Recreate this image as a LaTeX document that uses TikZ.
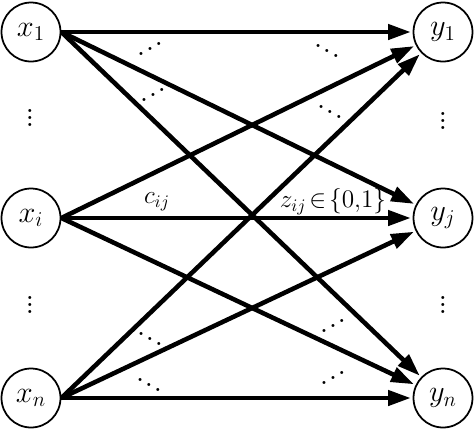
\documentclass[tikz,border=0pt]{standalone}
\usepackage{graphicx}
\usetikzlibrary{arrows.meta}
\newcommand{\updots}{\reflectbox{$\ddots$}}
\begin{document}
\begin{tikzpicture}[x=0.02cm,y=-0.02cm]
  \tikzstyle{vertex}=[circle,draw,line width=1pt,minimum size=1.18cm,inner sep=0pt,font=\LARGE]
  \tikzstyle{edge}=[line width=2.6pt,-{Triangle[length=13pt,width=8.5pt]},shorten >=1pt]
  \tikzstyle{dotsnode}=[inner sep=0pt,anchor=base,yshift=-4.8pt,font=\large\bfseries]
  \tikzstyle{weight}=[inner sep=0pt,font=\Large]
  \useasboundingbox (0,0) rectangle (474,430);
  % sources
  \node[vertex] (x1) at (31,32) {$x_1$};
  \node[vertex] (xi) at (31,218) {$x_i$};
  \node[vertex] (xn) at (31,398) {$x_n$};
  % targets
  \node[vertex] (y1) at (443,32) {$y_1$};
  \node[vertex] (yj) at (443,218) {$y_j$};
  \node[vertex] (yn) at (443,398) {$y_n$};
  % all pairs
  \foreach \s in {x1,xi,xn}
    \foreach \t in {y1,yj,yn}
      \draw[edge] (\s.east) -- (\t);
  % labels on x_i -> y_j
  \node[weight] (cij) at (157,202) {$c_{ij}$};
  \node[weight] (zij) at (333,202) {$z_{ij}\!\in\!\{0{,}1\}$};
  % vertical dots
  \node[dotsnode] (vx1) at (30,118) {\vdots};
  \node[dotsnode] (vx2) at (30,305) {\vdots};
  \node[dotsnode] (vy1) at (443,121) {\vdots};
  \node[dotsnode] (vy2) at (443,305) {\vdots};
  % diagonal dots
  \node[dotsnode] (d1) at (150,49) {\updots};
  \node[dotsnode] (d2) at (153,95) {\updots};
  \node[dotsnode] (d3) at (327,51) {$\ddots$};
  \node[dotsnode] (d4) at (330,112) {$\ddots$};
  \node[dotsnode] (d5) at (150,339) {$\ddots$};
  \node[dotsnode] (d6) at (149,385) {$\ddots$};
  \node[dotsnode] (d7) at (333,326) {\updots};
  \node[dotsnode] (d8) at (333,378) {\updots};
\end{tikzpicture}
\end{document}
